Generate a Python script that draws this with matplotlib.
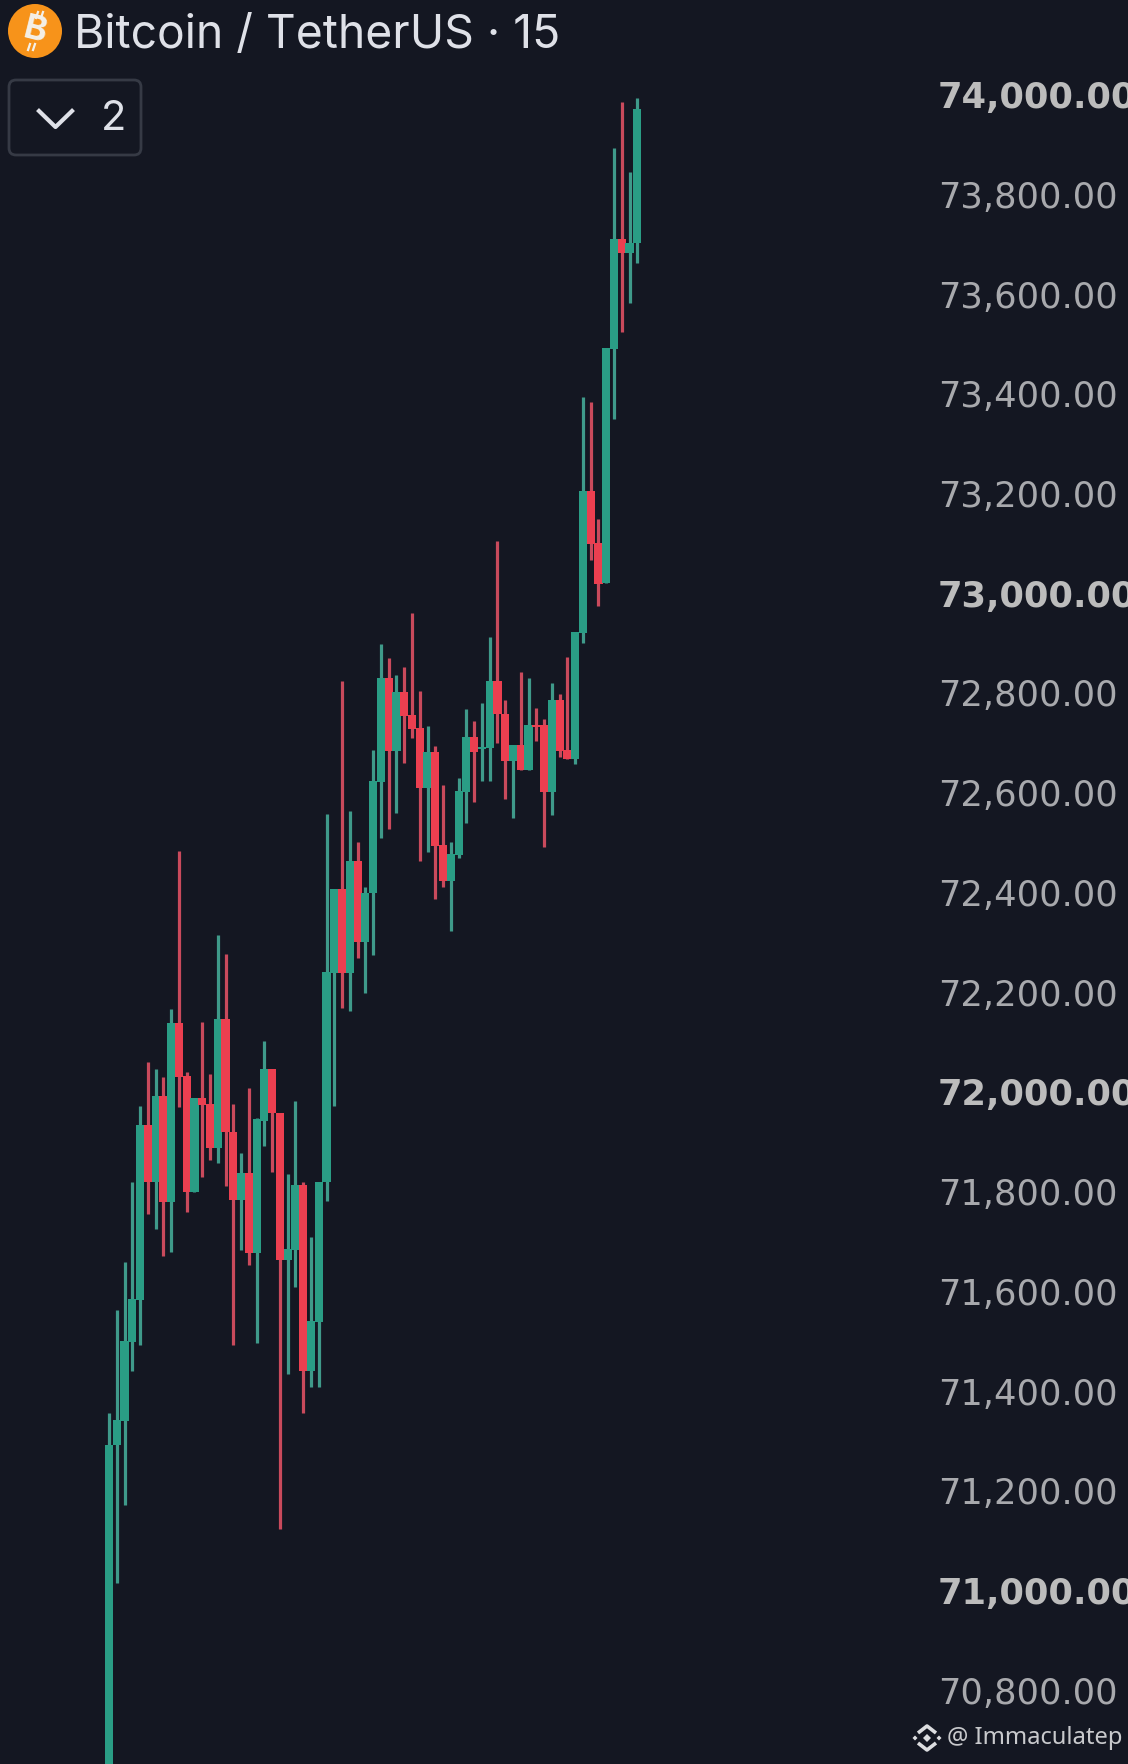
import numpy as np
import matplotlib
matplotlib.use("Agg")
import matplotlib.pyplot as plt
import matplotlib.patches as mpatches

# 15m candles
opens = [70500, 71294, 71342, 71501, 71585, 71936, 71822, 71994, 71782, 72141,
         72034, 71802, 71990, 71978, 71890, 72149, 71922, 71786, 71840, 71679,
         71944, 72048, 71960, 71665, 71685, 71816, 71443, 71541, 71822, 72241,
         72409, 72241, 72465, 72303, 72401, 72624, 72832, 72686, 72804, 72758,
         72732, 72612, 72684, 72497, 72425, 72477, 72604, 72714, 72690, 72692,
         72826, 72760, 72666, 72698, 72648, 72738, 72738, 72604, 72788, 72688,
         72670, 72923, 73207, 73103, 73023, 73492, 73713, 73685, 73705]
highs = [71358, 71565, 71661, 71822, 71974, 72062, 72048, 72032, 72169, 72485,
         72042, 71990, 72143, 72038, 72317, 72279, 71978, 71880, 72010, 71950,
         72104, 72048, 71960, 71838, 71984, 71822, 71711, 71822, 72560, 72409,
         72826, 72566, 72503, 72413, 72688, 72901, 72872, 72838, 72854, 72963,
         72806, 72736, 72696, 72618, 72503, 72632, 72770, 72746, 72782, 72915,
         73107, 72788, 72698, 72844, 72832, 72772, 72750, 72822, 72800, 72874,
         72925, 73396, 73386, 73151, 73494, 73895, 73987, 73847, 73995]
lows = [70400, 71018, 71174, 71443, 71495, 71758, 71727, 71673, 71681, 71972,
        71762, 71802, 71832, 71866, 71860, 71814, 71495, 71685, 71655, 71499,
        71894, 71842, 71126, 71437, 71611, 71358, 71411, 71411, 71784, 71974,
        72171, 72165, 72271, 72201, 72277, 72512, 72530, 72562, 72662, 72712,
        72465, 72483, 72389, 72413, 72325, 72471, 72542, 72584, 72626, 72626,
        72702, 72590, 72552, 72648, 72648, 72706, 72493, 72558, 72674, 72670,
        72660, 72903, 73069, 72977, 73023, 73352, 73526, 73584, 73665]
closes = [71294, 71344, 71503, 71587, 71936, 71822, 71994, 71782, 72141, 72032,
          71802, 71990, 71976, 71890, 72149, 71922, 71786, 71840, 71679, 71948,
          72048, 71960, 71665, 71687, 71816, 71443, 71543, 71822, 72243, 72409,
          72241, 72465, 72303, 72401, 72626, 72832, 72686, 72804, 72756, 72730,
          72612, 72684, 72495, 72425, 72479, 72606, 72714, 72684, 72694, 72826,
          72760, 72666, 72698, 72648, 72738, 72734, 72604, 72788, 72686, 72670,
          72925, 73207, 73101, 73021, 73494, 73713, 73685, 73705, 73973]

price_ticks = [74000, 73800, 73600, 73400, 73200, 73000, 72800, 72600, 72400,
               72200, 72000, 71800, 71600, 71400, 71200, 71000, 70800]

BG = "#141722"
UP, DOWN = "#2a9d85", "#ec3f50"
UP_WICK, DOWN_WICK = "#3f9a8a", "#c94a5c"

W, H = 1128, 1764
fig = plt.figure(figsize=(W / 100, H / 100), dpi=100, facecolor=BG)

ax = fig.add_axes([0, 0, 1, 1], facecolor=BG)
step = 7.769
ax.set_xlim(-109 / step, (W - 109) / step)
ax.set_ylim(70654.4, 74191.7)
ax.axis("off")

# candles go left to right so later ones sit on top
for i in range(len(opens)):
    up = closes[i] >= opens[i]
    ax.vlines(i, lows[i], highs[i], color=UP_WICK if up else DOWN_WICK,
              linewidth=2.3, zorder=2 + i * 0.01)
    ax.bar(i, abs(closes[i] - opens[i]), bottom=min(opens[i], closes[i]), width=1.05,
           color=UP if up else DOWN, linewidth=0, zorder=2 + i * 0.01)

# price labels, the round thousands are bold and run off the right edge like the original
label_x = 938 / W
for p in price_ticks:
    bold = p % 1000 == 0
    ax.text(label_x, p - 25, f"{p:,.2f}", transform=ax.get_yaxis_transform(),
            family="DejaVu Sans", fontsize=25.4, va="baseline", ha="left",
            fontweight="bold" if bold else "normal",
            color="#bcbcbc" if bold else "#a8a9ad")

# header and watermark, placed in pixels
ui = fig.add_axes([0, 0, 1, 1], facecolor="none")
ui.set_xlim(0, W)
ui.set_ylim(H, 0)
ui.axis("off")

ui.add_patch(mpatches.Ellipse((35, 31), 54, 54, color="#f7931a", linewidth=0))
ui.text(35, 31, "B", family="Inter", fontweight="bold", fontsize=25, color="#f4f0e8",
        rotation=-14, ha="center", va="center", rotation_mode="anchor")
for dx in (-2, 3):
    # little bars of the bitcoin sign
    ui.plot([38 + dx, 40 + dx], [18, 12], color="#f4f0e8", linewidth=1.6)
    ui.plot([30 + dx, 32 + dx], [50, 44], color="#f4f0e8", linewidth=1.6)
ui.text(74, 47.7, "Bitcoin / TetherUS · 15", family="Inter", fontsize=33.3,
        color="#dfe1e8", va="baseline", ha="left")

ui.add_patch(mpatches.FancyBboxPatch((9, 80), 132, 75, boxstyle="round,pad=0,rounding_size=7",
                                     facecolor="none", edgecolor="#363a45", linewidth=2))
ui.plot([39, 55.5, 72], [111, 127, 111], color="#dfe1e8", linewidth=3)
ui.text(114, 119, "2", family="Inter", fontsize=30, color="#dfe1e8",
        ha="center", va="center")

logo_color = "#dcdde0"
for cx, cy, r in [(927, 1738, 4), (915, 1738, 2.5), (939, 1738, 2.5)]:
    ui.add_patch(plt.Polygon([(cx - r, cy), (cx, cy - r), (cx + r, cy), (cx, cy + r)],
                             color=logo_color, linewidth=0))
ui.plot([918, 927, 936], [1733, 1726, 1733], color=logo_color, linewidth=2.6, solid_capstyle="butt")
ui.plot([918, 927, 936], [1743, 1750, 1743], color=logo_color, linewidth=2.6, solid_capstyle="butt")
ui.text(947, 1738, "@ Immaculatep", family="Noto Sans", fontsize=17.1, color="#c8c9cc",
        va="center", ha="left")

fig.savefig("out.png", dpi=100, facecolor=BG)
